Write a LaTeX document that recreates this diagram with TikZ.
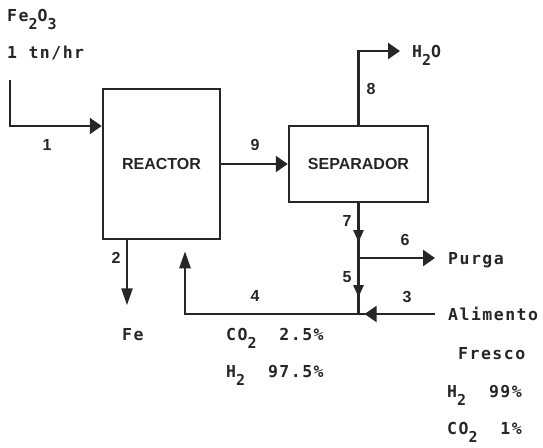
\documentclass[tikz,border=0pt]{standalone}
\usepackage{fontspec}
\setmainfont{Liberation Sans}
\newfontfamily\streamfont[LetterSpace=9]{DejaVu Sans Mono}
\usetikzlibrary{arrows.meta,decorations.markings}
\newcommand\chemsub[1]{\raisebox{-8pt}{\fontsize{15}{15}\selectfont #1}}
\colorlet{ink}{black!85}
\tikzset{
  unit/.style={draw=ink, line width=2.5pt, text=ink, font=\bfseries\fontsize{16}{18}\selectfont},
  flow/.style={draw=ink, line width=2.5pt},
  htip/.style={-{Triangle[length=12pt,width=16pt]}},
  vtip/.style={-{Triangle[length=17pt,width=11pt]}},
  midv/.style={postaction={decorate}, decoration={markings,
      mark=at position #1 with {\arrow{Triangle[length=12pt,width=10pt]}}}},
  midh/.style={postaction={decorate}, decoration={markings,
      mark=at position #1 with {\arrow{Triangle[length=12pt,width=16pt]}}}},
  num/.style={text=ink, font=\bfseries\fontsize{16}{18}\selectfont},
  txt/.style={anchor=base west, inner sep=0pt, text=ink,
      font=\streamfont\bfseries\fontsize{16.5}{18}\selectfont}
}
\begin{document}
\begin{tikzpicture}[x=1pt,y=-1pt]
\useasboundingbox (0,0) rectangle (543,447);

% Equipos
\node[unit, minimum width=117pt, minimum height=150pt] (reactor) at (161.5,164) {REACTOR};
\node[unit, minimum width=139pt, minimum height=76pt] (sep) at (358.5,164) {SEPARADOR};

% Puntos de las corrientes
\coordinate (in1) at (10,80);
\coordinate (split) at (sep.south |- 0,258);
\coordinate (junc) at (sep.south |- 0,314);
\coordinate (out8) at (400,51);
\coordinate (out6) at (435,258);
\coordinate (in3) at (435,314);
\coordinate (ret4) at ([xshift=23.5pt,yshift=-11pt]reactor.south);
\coordinate (out2) at ([xshift=-34.5pt,yshift=-65pt]reactor.south);

% Corrientes
\draw[flow, htip] (in1) |- ([yshift=38pt]reactor.west);
\draw[flow, htip] (reactor.east) -- (sep.west);
\draw[flow, htip] (sep.north) |- (out8);
\draw[flow, midv=0.71] (sep.south) -- (split);
\draw[flow, htip] (split) -- (out6);
\draw[flow, midv=0.70] (split) -- (junc);
\draw[flow, midh=0.92] (in3) -- (junc);
\draw[flow, vtip] (junc) -| (ret4);
\draw[flow, vtip] ([xshift=-34.5pt]reactor.south) -- (out2);

% Numeros de corriente
\node[num] (n1) at (47,145) {1};
\node[num] (n2) at (116,258) {2};
\node[num] (n3) at (407,297) {3};
\node[num] (n4) at (255,296) {4};
\node[num] (n5) at (347,277) {5};
\node[num] (n6) at (405,240) {6};
\node[num] (n7) at (347,221) {7};
\node[num] (n8) at (371,89) {8};
\node[num] (n9) at (255,145) {9};

% Textos
\node[txt] (feed) at (7,21) {Fe\chemsub{2}O\chemsub{3}};
\node[txt] (rate) at (7,58) {1 tn/hr};
\node[txt] (water) at (412,57) {H\chemsub{2}O};
\node[txt] (purga) at (448,264) {Purga};
\node[txt] (alim) at (448,320) {Alimento};
\node[txt] (fresco) at (458,359) {Fresco};
\node[txt] (h2in) at (447,397) {H\chemsub{2}\ \ 99\%};
\node[txt] (co2in) at (447,434) {CO\chemsub{2}\ \ 1\%};
\node[txt] (fe) at (122,340) {Fe};
\node[txt] (co2rec) at (226,340) {CO\chemsub{2}\ \ 2.5\%};
\node[txt] (h2rec) at (226,377) {H\chemsub{2}\ \ 97.5\%};

\end{tikzpicture}
\end{document}
